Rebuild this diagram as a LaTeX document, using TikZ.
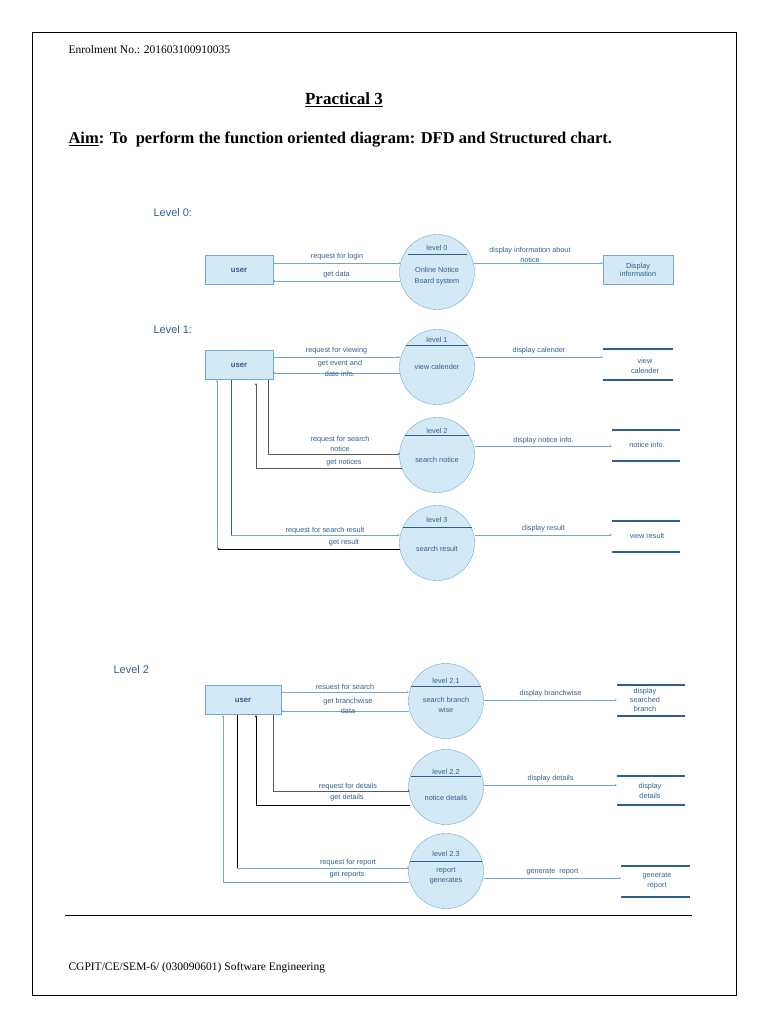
\documentclass[tikz,border=0pt]{standalone}
\usepackage{fontspec}
\setmainfont{Liberation Serif}
\newfontfamily\dsf{Liberation Sans}
\usetikzlibrary{arrows.meta}
\definecolor{fillb}{HTML}{D3EAF6}
\definecolor{lineb}{HTML}{6FA8D6}
\definecolor{txtb}{HTML}{2F5F8F}
\definecolor{darkl}{HTML}{2F5F8F}
\begin{document}
\begin{tikzpicture}[x=1pt,y=-1pt,
 lbl/.style={font=\dsf\fontsize{7.3}{8.3}\selectfont,text=txtb,align=center,inner sep=0},
 box/.style={draw=lineb,fill=fillb,minimum width=68pt,minimum height=29pt,font=\dsf\bfseries\fontsize{7.8}{9}\selectfont,text=txtb,align=center},
 proc/.style={draw=lineb,fill=fillb,circle,minimum size=75pt,inner sep=0},
 flow/.style={draw=lineb,-{Latex[length=2pt,width=2pt]}},
 dflow/.style={draw=gray!70!black,-{Latex[length=2pt,width=2pt]}},
 bflow/.style={draw=black,-{Latex[length=2pt,width=2pt]}},
 store/.style={draw=darkl,line width=1.2pt},
 lev/.style={font=\dsf\fontsize{11}{13}\selectfont,text=txtb,anchor=west}]
\useasboundingbox (0,0) rectangle (768,1024);
\draw[black] (32,32) rectangle (736,995);
\node[anchor=west,font=\fontsize{11.5}{13}\selectfont] (enr) at (65,50) {Enrolment No.: 201603100910035};
\node[font=\bfseries\fontsize{17}{19}\selectfont] (tit) at (344,100) {\underline{Practical 3}};
\node[anchor=west,font=\bfseries\fontsize{16.5}{19}\selectfont] (aim) at (65,140) {\underline{Aim}: To\ \ perform the function oriented diagram: DFD and Structured chart.};
\draw (65,915) -- (692,915);
\node[anchor=west,font=\fontsize{11.5}{13}\selectfont] (foot) at (65,968) {CGPIT/CE/SEM-6/ (030090601) Software Engineering};

% ---------- Level 0
\node[lev] (l0) at (150,213) {Level 0:};
\node[box] (u0) at (239,270) {user};
\node[proc] (p0) at (437,272) {};
\draw[darkl,line width=0.9pt] (408,254) -- (467,254);
\node[lbl] at (437,248) {level 0};
\node[lbl] at (437,276) {Online Notice\\[2pt]Board system};
\node[box,minimum width=70pt,font=\dsf\fontsize{7.3}{8.5}\selectfont] (d0) at (638,270) {Display\\information};
\draw[flow] (273,263) -- (401,263) node[lbl,midway,above=3pt] {request for login};
\draw[flow] (400,281) -- (273,281) node[lbl,midway,above=3pt] {get data};
\draw[flow] (474,263) -- (603,263);
\node[lbl] at (530,251) {display information about};
\node[lbl] at (530,260) {notice};

% ---------- Level 1
\node[lev] (l1) at (150,330) {Level 1:};
\node[box] (u1) at (239,365) {user};
\node[proc] (p1) at (437,367) {};
\draw[darkl,line width=0.9pt] (406,345) -- (468,345);
\node[lbl] at (437,340) {level 1};
\node[lbl] at (437,367) {view calender};
\draw[flow] (273,357) -- (400,357) node[lbl,midway,above=3pt] {request for viewing};
\draw[flow] (400,373) -- (273,373);
\node[lbl] at (340,364) {get event and};
\node[lbl] at (340,374) {date info.};
\draw[flow] (475,357) -- (603,357) node[lbl,midway,above=3pt] {display calender};
\draw[store] (603,349) -- (673,349) (603,380) -- (673,380);
\node[lbl] (s1) at (645,366) {view\\[2pt]calender};

\node[proc] (p2) at (437,455) {};
\draw[darkl,line width=0.9pt] (405,435) -- (469,435);
\node[lbl] at (437,431) {level 2};
\node[lbl] at (437,460) {search notice};
\coordinate (a2) at (268,380);
\coordinate (b2) at (268,454);
\draw[dflow] (a2) -- (b2) -- (400,454);
\node[lbl] at (340,440) {request for search};
\node[lbl] at (340,449) {notice};
\coordinate (c2) at (256,468);
\coordinate (e2) at (256,383);
\draw[dflow] (402,468) -- (c2) -- (e2);
\node[lbl] at (344,463) {get notices};
\draw[flow] (475,446) -- (612,446) node[lbl,midway,above=2pt] {display notice info.};
\draw[store] (612,430) -- (680,430) (612,461) -- (680,461);
\node[lbl] (s2) at (647,445) {notice info.};

\node[proc] (p3) at (437,543) {};
\draw[darkl,line width=0.9pt] (403,527) -- (472,527);
\node[lbl] at (437,520) {level 3};
\node[lbl] at (437,549) {search result};
\coordinate (a3) at (231,380);
\coordinate (b3) at (231,535);
\draw[darkl] (a3) -- (b3);
\draw[flow] (b3) -- (400,535);
\node[lbl] at (325,531) {request for search result};
\coordinate (c3) at (217,549);
\coordinate (e3) at (217,380);
\draw[bflow] (400,549) -- (c3);
\draw[lineb,-{Latex[length=2pt,width=2pt]}] (c3) -- (e3);
\node[lbl] at (344,543) {get result};
\draw[flow] (475,535) -- (612,535) node[lbl,midway,above=3pt] {display result};
\draw[store] (612,521) -- (680,521) (612,552) -- (680,552);
\node[lbl] (s3) at (647,536) {view result};

% ---------- Level 2
\node[lev] (l2) at (110,670) {Level 2};
\node[box,minimum width=76pt] (u2) at (243,700) {user};
\node[proc] (q1) at (446,701) {};
\draw[darkl,line width=0.9pt] (411,686) -- (481,686);
\node[lbl] at (446,681) {level 2.1};
\node[lbl] at (446,705) {search branch\\[2pt]wise};
\draw[flow] (281,692) -- (409,692) node[lbl,midway,above=2pt] {resuest for search};
\draw[flow] (409,711) -- (281,711);
\node[lbl] at (348,702) {get branchwise};
\node[lbl] at (348,711) {data};
\draw[flow] (484,700) -- (617,700) node[lbl,midway,above=3pt] {display branchwise};
\draw[store] (617,685) -- (685,685) (617,716) -- (685,716);
\node[lbl] (t1) at (645,700) {display\\[1pt]searched\\[1pt]branch};

\node[proc] (q2) at (446,787) {};
\draw[darkl,line width=0.9pt] (411,776) -- (481,776);
\node[lbl] at (446,772) {level 2.2};
\node[lbl] at (446,798) {notice details};
\coordinate (a4) at (273,715);
\coordinate (b4) at (273,791);
\draw[dflow] (a4) -- (b4) -- (410,791);
\node[lbl] at (348,787) {request for details};
\coordinate (c4) at (256,805);
\coordinate (e4) at (256,715);
\draw[bflow] (410,805) -- (c4) -- (e4);
\node[lbl] at (347,798) {get details};
\draw[flow] (484,785) -- (617,785) node[lbl,midway,above=3pt] {display details};
\draw[store] (617,776) -- (685,776) (617,805) -- (685,805);
\node[lbl] (t2) at (650,791) {display\\[2pt]details};

\node[proc] (q3) at (446,871) {};
\draw[darkl,line width=0.9pt] (410,861) -- (482,861);
\node[lbl] at (446,854) {level 2.3};
\node[lbl] at (446,876) {report\\[2pt]generates};
\coordinate (a5) at (237,715);
\coordinate (b5) at (237,868);
\draw[black] (a5) -- (b5);
\draw[flow] (b5) -- (409,868);
\node[lbl] at (348,863) {request for report};
\coordinate (c5) at (223,882);
\coordinate (e5) at (223,715);
\draw[flow] (409,882) -- (c5) -- (e5);
\node[lbl] at (347,875) {get reports};
\draw[flow] (484,878) -- (621,878) node[lbl,midway,above=3pt] {generate\ \ report};
\draw[store] (621,866) -- (690,866) (621,897) -- (690,897);
\node[lbl] (t3) at (657,881) {generate\\[2pt]report};
\end{tikzpicture}
\end{document}
